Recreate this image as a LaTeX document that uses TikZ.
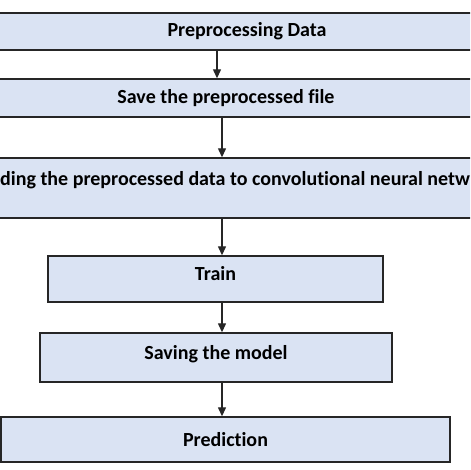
\documentclass[tikz,border=0pt]{standalone}
\definecolor{boxblue}{RGB}{218, 227, 243}
\definecolor{edgegray}{RGB}{38, 38, 38}
\usepackage{fontspec}
\setmainfont{Carlito}[Ligatures=NoCommon]
\usepackage{tikz}
\usetikzlibrary{arrows.meta,positioning,calc}

\begin{document}
\begin{tikzpicture}[x=1pt, y=-1pt,
    every node/.style={font=\fontsize{20}{22}\selectfont\bfseries},
    stage/.style={rectangle, draw=edgegray, line width=1.4pt, fill=boxblue, inner sep=0pt},
    flow/.style={-{Triangle[width=8pt,length=9pt]}, line width=1.3pt, color=edgegray}]
    \clip (0,0) rectangle (470,470);

    % Stages
    \node[stage, minimum width=540, minimum height=37] (prep) at (247,31.5) {Preprocessing Data};
    \node[stage, minimum width=520, minimum height=38] (save) at (226,98) {Save the preprocessed file};
    \node[stage, minimum width=520, minimum height=60, text height=12pt, text depth=17pt] (feed) at (235,188) {ding the preprocessed data to convolutional neural netw};
    \node[stage, minimum width=335, minimum height=46, text height=12pt, text depth=9pt] (train) at (215.5,279) {Train};
    \node[stage, minimum width=352, minimum height=49, text height=12pt, text depth=9pt] (model) at (216,357.5) {Saving the model};
    \node[stage, minimum width=449, minimum height=45] (pred) at (225.5,439.5) {Prediction};

    % Arrows
    \coordinate (axis) at (222,0);
    \draw[flow] ([xshift=-30pt]prep.south) -- ([xshift=-30pt]prep.south |- save.north);
    \draw[flow] (save.south -| axis) -- (feed.north -| axis);
    \draw[flow] (feed.south -| axis) -- (train.north -| axis);
    \draw[flow] (train.south -| axis) -- (model.north -| axis);
    \draw[flow] (model.south -| axis) -- (pred.north -| axis);
\end{tikzpicture}
\end{document}
